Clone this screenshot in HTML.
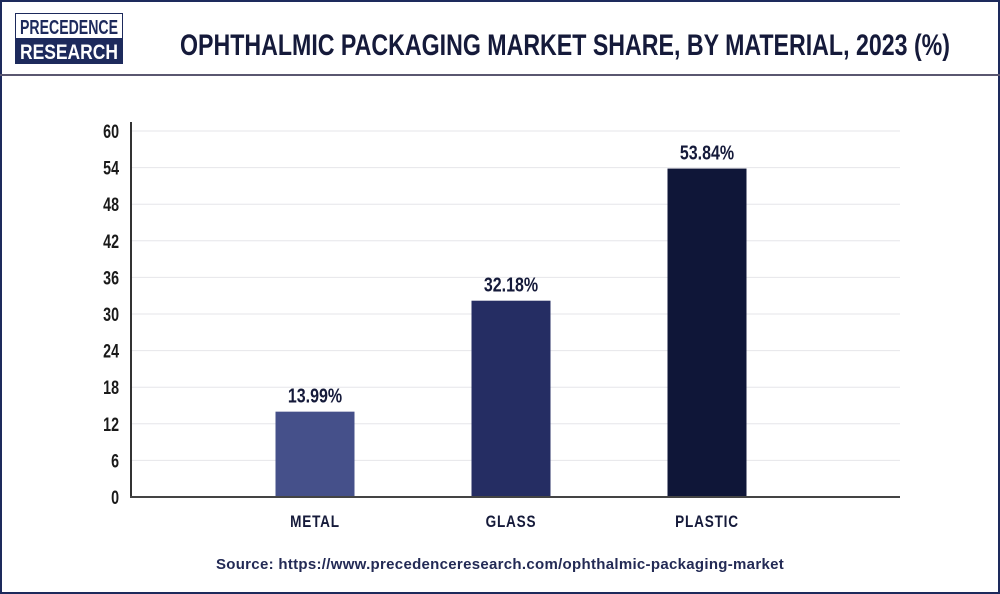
<!DOCTYPE html>
<html><head><meta charset="utf-8"><style>
body{margin:0;background:#fff;}
#wrap{position:relative;width:1000px;height:594px;overflow:hidden;font-family:"Liberation Sans",sans-serif;}
#frame{position:absolute;left:0;top:0;width:996px;height:590px;border:2px solid #1d2a5c;}
#hdrline{position:absolute;left:0;top:74px;width:1000px;height:2px;background:#5a5770;}
#src{position:absolute;left:0;top:556px;width:1000px;text-align:center;font-weight:bold;font-size:15px;color:#232a55;letter-spacing:0.3px;}
</style></head><body>
<div id="wrap">
<div id="frame"></div>
<div id="hdrline"></div>
<svg width="1000" height="76" style="position:absolute;left:0;top:0">
 <g>
  <rect x="15.5" y="13.5" width="107" height="50" fill="#fff" stroke="#1d2a5c"/>
  <rect x="16" y="38" width="106" height="25" fill="#1d2a5c"/>
  <text x="20" y="34" textLength="98" lengthAdjust="spacingAndGlyphs" font-family="Liberation Sans, sans-serif" font-weight="bold" font-size="20" fill="#1d2a5c">PRECEDENCE</text>
  <text x="20" y="59" textLength="98" lengthAdjust="spacingAndGlyphs" font-family="Liberation Sans, sans-serif" font-weight="bold" font-size="21" fill="#fff">RESEARCH</text>
 </g>
 <text x="180" y="55" textLength="770" lengthAdjust="spacingAndGlyphs" font-family="Liberation Sans, sans-serif" font-weight="bold" font-size="30" fill="#151a3a">OPHTHALMIC PACKAGING MARKET SHARE, BY MATERIAL, 2023 (%)</text>
</svg>
<svg id="chart" width="1000" height="594" style="position:absolute;left:0;top:0"></svg>
<div id="src">Source: https://www.precedenceresearch.com/ophthalmic-packaging-market</div>
</div>
<script>
const categories=["METAL","GLASS","PLASTIC"];
const values=[13.99,32.18,53.84];
const labels=["13.99%","32.18%","53.84%"];
const ticks=[0,6,12,18,24,30,36,42,48,54,60];
const colors=["#45508a","#252d63","#0f1638"];
const svg=document.getElementById('chart');
const NS="http://www.w3.org/2000/svg";
const y0=497,yTop=131,xL=131,xR=900;
const y=v=>y0-(v/60)*(y0-yTop);
const xc=i=>315+i*196;
const bw=79;
function mk(tag,attrs){const e=document.createElementNS(NS,tag);for(const k in attrs)e.setAttribute(k,attrs[k]);svg.appendChild(e);return e;}
ticks.forEach(t=>{
 if(t>0){const g=mk('line',{x1:xL,x2:xR,y1:y(t),y2:y(t),stroke:'#e6e6ea','stroke-width':1});
 
 }
 const tx=mk('text',{x:119/0.75,y:y(t)+7,'text-anchor':'end','font-size':19,'font-weight':'bold',fill:'#1a1a1a','font-family':'Liberation Sans, sans-serif',transform:'scale(0.75,1)'});
 tx.textContent=t;
 
 
});
values.forEach((v,i)=>{
 const r=mk('rect',{x:xc(i)-bw/2,y:y(v),width:bw,height:y0-y(v),fill:colors[i]});
 
 
 const l=mk('text',{x:xc(i)/0.8,y:y(v)-9,'text-anchor':'middle','font-size':20,'font-weight':'bold',fill:'#151a3a','font-family':'Liberation Sans, sans-serif',transform:'scale(0.8,1)'});
 l.textContent=labels[i];
 
 
 const c=mk('text',{x:xc(i)/0.8,y:527,'text-anchor':'middle','font-size':17,'font-weight':'bold',fill:'#151a3a','font-family':'Liberation Sans, sans-serif','letter-spacing':1,transform:'scale(0.8,1)'});
 c.textContent=categories[i];
 
 
});
const ax=mk('line',{x1:xL,x2:xL,y1:122,y2:y0+1,stroke:'#333','stroke-width':2});


const bx=mk('line',{x1:xL-1,x2:xR,y1:y0,y2:y0,stroke:'#444','stroke-width':2});


</script>
</body></html>
